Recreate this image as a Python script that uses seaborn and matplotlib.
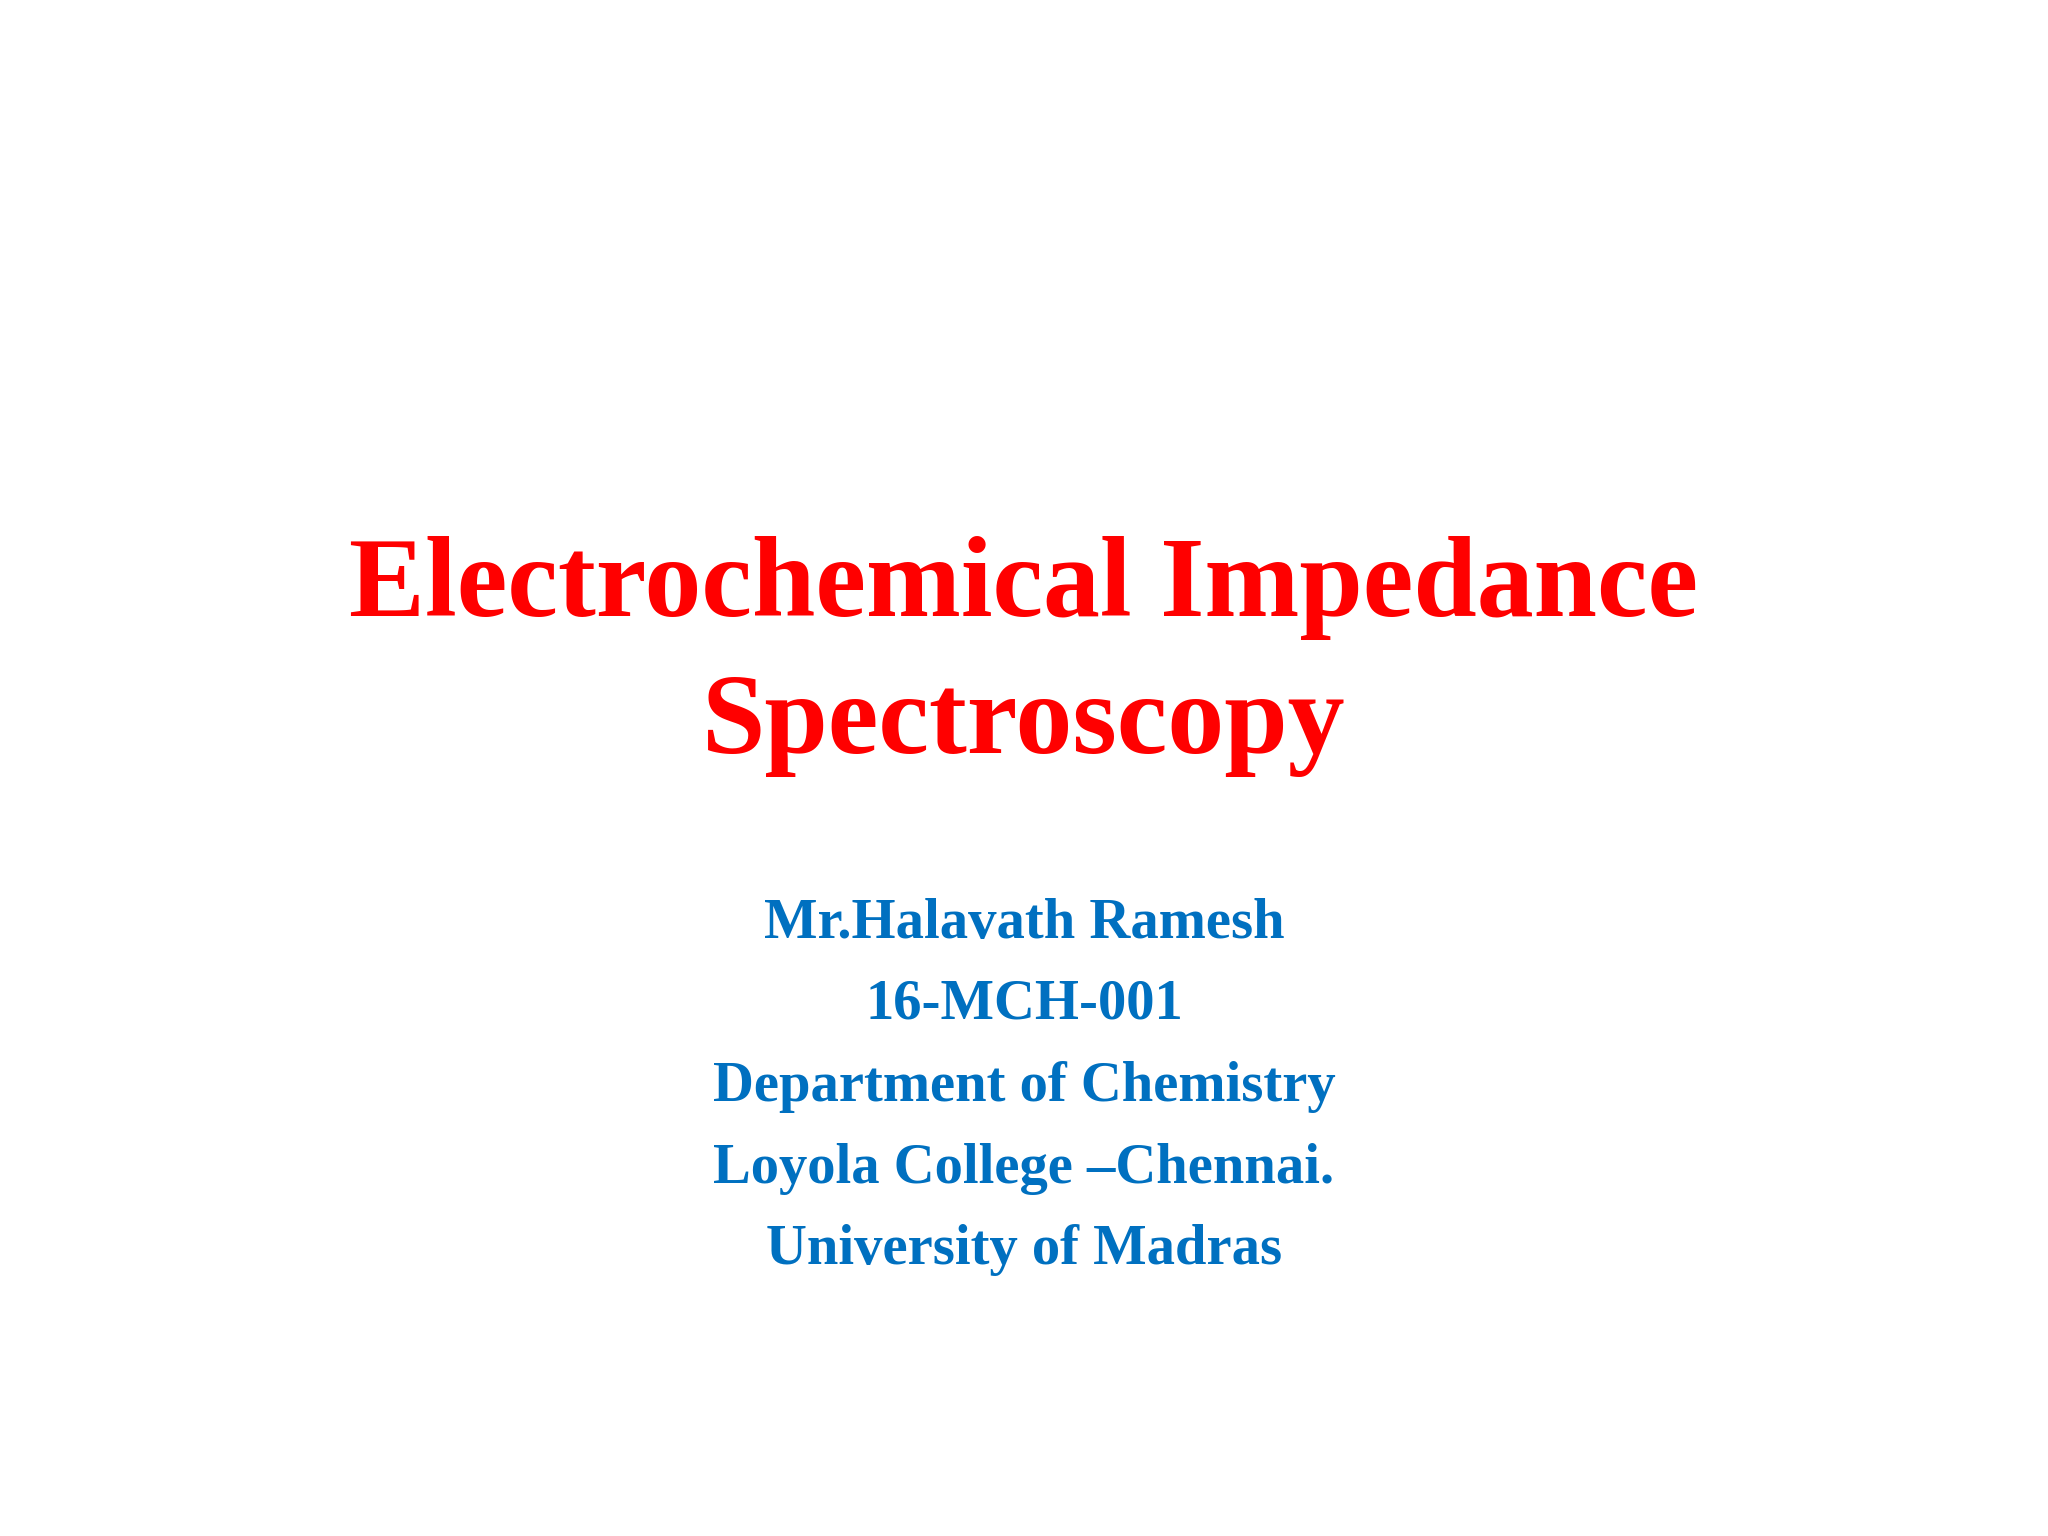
import seaborn as sns
import matplotlib.pyplot as plt

sns.set_theme(style='white')
plt.rcParams['font.family'] = ['Liberation Serif', 'DejaVu Serif']

# slide text
title_lines = ['Electrochemical Impedance', 'Spectroscopy']
info_lines = ['Mr.Halavath Ramesh', '16-MCH-001', 'Department of Chemistry',
              'Loyola College \u2013Chennai.', 'University of Madras']

fig = plt.figure(figsize=(10.24, 7.68), dpi=200)
fig.patch.set_facecolor('white')

# title, red bold serif
for txt, y in zip(title_lines, [0.599, 0.510]):
    fig.text(0.5, y, txt, ha='center', va='baseline', fontsize=41,
             fontweight='bold', color='#FF0000')

# author block, blue bold serif
for txt, y in zip(info_lines, [0.389, 0.337, 0.283, 0.230, 0.177]):
    fig.text(0.5, y, txt, ha='center', va='baseline', fontsize=20.4,
             fontweight='bold', color='#0070C0')

plt.savefig('out.png', dpi=200, facecolor='white')
